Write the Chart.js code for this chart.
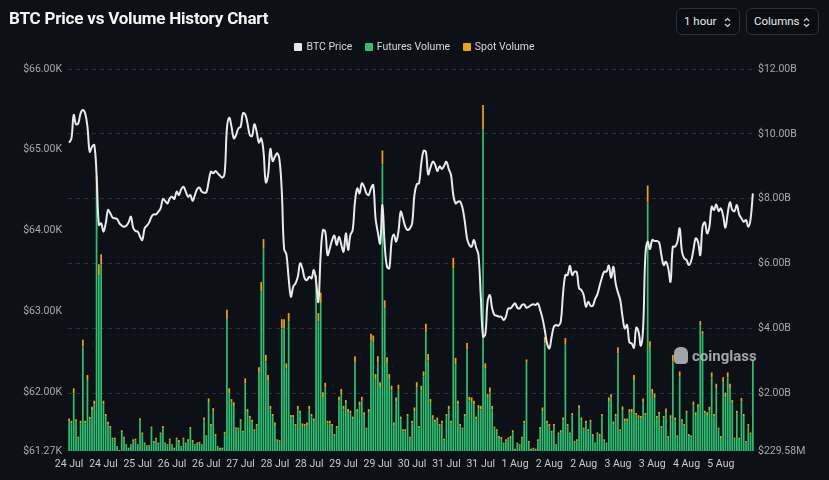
<!DOCTYPE html>
<html>
<head>
<meta charset="utf-8">
<script src="https://cdn.jsdelivr.net/npm/chart.js@4.4.1/dist/chart.umd.min.js"></script>
<style>
html,body{margin:0;padding:0;background:#0d1017;}
#wrap{position:relative;width:829px;height:480px;overflow:hidden;font-family:Roboto,"Noto Sans",sans-serif;}
#c{position:absolute;left:0;top:0;}
.title{position:absolute;left:9px;top:8px;color:#f4f4f4;font-size:17px;font-weight:700;letter-spacing:-0.2px;}
.sel{position:absolute;top:8px;height:27px;border:1px solid #2c303b;border-radius:6px;color:#ececec;font-size:11.5px;line-height:25px;padding:0 0 0 7px;box-sizing:border-box;background:#0a0d12;}
.sel svg{position:absolute;top:8px;right:8px;}
.legend{position:absolute;top:40px;left:0;width:829px;text-align:center;font-size:10.5px;color:#d8d8d8;}
.legend span{display:inline-block;margin:0 5px;}
.legend i{display:inline-block;width:8px;height:8px;border-radius:1px;margin-right:4px;vertical-align:-1px;}
.wm{position:absolute;left:674px;top:347px;color:rgba(190,190,195,0.85);font-size:15px;font-weight:700;}
.wm b{display:inline-block;width:14px;height:17px;background:rgba(190,190,195,0.85);border-radius:6px 6px 4px 4px;vertical-align:-3px;margin-right:4px;}
</style>
</head>
<body>
<div id="wrap">
  <canvas id="c" width="829" height="480"></canvas>
  <div class="title">BTC Price vs Volume History Chart</div>
  <div class="sel" style="left:676px;width:64px">1 hour<svg width="7" height="11" viewBox="0 0 7 11"><path d="M1 4 L3.5 1.5 L6 4 M1 7 L3.5 9.5 L6 7" stroke="#cfcfcf" stroke-width="1.2" fill="none"/></svg></div>
  <div class="sel" style="left:746px;width:73px">Columns<svg width="7" height="11" viewBox="0 0 7 11"><path d="M1 4 L3.5 1.5 L6 4 M1 7 L3.5 9.5 L6 7" stroke="#cfcfcf" stroke-width="1.2" fill="none"/></svg></div>
  <div class="legend">
    <span><i style="background:#e6e6ea"></i>BTC Price</span>
    <span><i style="background:#2fbf71"></i>Futures Volume</span>
    <span><i style="background:#f5a10f"></i>Spot Volume</span>
  </div>
  <div class="wm"><b></b>coinglass</div>
</div>
<script>
/* hourly data, 24 Jul 07:00 -> 5 Aug 18:00, volumes in billions USD */
const futures = [
  1.15,1.08,2.01,1.13,0.61,1.08,3.46,1.08,2.42,1.20,1.48,1.67,8.17,5.63,5.97,
  1.67,1.29,1.05,0.92,0.58,0.58,0.34,0.22,0.81,0.61,0.40,0.29,0.40,0.53,0.55,
  0.40,1.16,0.74,0.45,0.37,0.37,0.92,0.48,0.58,0.45,0.74,0.92,0.45,0.40,0.55,
  0.40,0.29,0.58,0.51,0.34,0.58,0.45,0.53,0.91,0.51,0.40,0.45,0.45,0.40,1.18,
  0.65,1.74,0.98,1.44,0.69,0.34,0.29,0.29,0.76,4.30,2.01,1.72,1.62,0.89,0.89,
  1.13,0.79,2.32,1.41,1.23,1.11,0.84,0.98,2.66,5.14,6.46,2.99,2.42,1.51,1.29,
  1.03,0.53,0.50,4.01,4.01,2.78,4.23,1.26,1.26,0.98,1.51,1.39,1.00,0.98,1.03,
  1.51,1.29,1.15,5.33,4.23,4.79,1.89,2.18,1.08,1.08,0.98,0.69,0.92,1.79,1.99,
  1.51,1.69,1.41,1.39,1.21,2.95,1.41,1.64,1.79,1.34,0.89,1.41,3.64,3.59,2.45,
  2.95,2.20,9.06,4.62,2.92,2.45,2.09,1.03,1.77,2.12,1.21,0.84,0.84,1.29,0.61,
  1.08,1.46,2.20,0.92,2.09,2.53,3.90,3.02,1.72,1.25,1.11,1.18,0.98,1.08,0.55,
  1.29,1.51,1.08,5.86,2.90,1.67,0.98,0.89,1.29,3.36,1.79,1.77,1.67,1.21,1.53,
  1.51,10.14,2.78,1.87,2.04,1.51,0.92,0.84,0.63,0.60,0.45,0.53,0.58,0.63,0.81,
  0.26,0.45,0.40,0.61,1.08,2.95,0.48,0.26,0.29,0.26,0.53,0.91,1.46,3.54,1.08,
  0.98,0.79,0.98,0.40,0.74,0.81,1.18,3.51,0.98,0.74,1.32,0.48,0.53,1.53,1.18,
  0.89,1.08,0.84,1.11,0.69,0.45,0.74,0.69,1.29,0.53,0.45,1.77,1.87,1.06,1.29,
  3.23,0.84,1.49,1.15,1.15,1.41,1.41,2.42,1.32,1.25,1.23,1.74,1.32,7.89,3.41,
  1.99,1.85,1.23,1.36,0.92,1.23,1.43,0.63,1.25,2.99,1.18,0.65,2.53,1.13,0.98,
  1.39,0.69,0.65,1.64,1.34,1.56,4.10,3.82,1.39,1.34,1.48,2.50,1.29,2.15,0.89,
  0.63,2.35,1.88,2.50,2.15,1.69,0.58,1.39,0.58,1.75,1.29,0.48,0.98,0.74,3.00
];
const spot = [
  .08,.08,.15,.08,.06,.08,.20,.08,.15,.08,.11,.11,.54,.35,.32,
  .11,.08,.08,.08,.06,.06,.04,.04,.06,.06,.04,.04,.04,.06,.06,
  .04,.08,.06,.04,.04,.04,.06,.06,.06,.04,.06,.08,.04,.04,.06,
  .04,.04,.06,.06,.04,.06,.04,.06,.06,.06,.04,.04,.06,.04,.08,
  .06,.11,.08,.11,.06,.04,.04,.04,.06,.28,.15,.11,.11,.06,.06,
  .08,.06,.15,.11,.08,.08,.06,.08,.15,.30,.30,.20,.15,.11,.08,
  .08,.06,.06,.28,.28,.15,.25,.08,.08,.08,.11,.08,.08,.08,.08,
  .11,.08,.08,.32,.25,.32,.15,.15,.08,.08,.08,.06,.08,.11,.15,
  .11,.11,.11,.08,.08,.20,.11,.11,.11,.08,.06,.11,.20,.20,.15,
  .20,.15,.43,.25,.20,.15,.15,.08,.11,.15,.08,.06,.06,.08,.06,
  .08,.11,.15,.08,.15,.15,.25,.20,.11,.08,.08,.08,.08,.08,.06,
  .08,.11,.08,.32,.20,.11,.08,.06,.08,.20,.11,.11,.11,.08,.11,
  .11,.75,.15,.11,.15,.11,.06,.06,.06,.06,.04,.06,.06,.06,.06,
  .04,.04,.04,.06,.08,.10,.06,.04,.04,.04,.06,.06,.11,.20,.08,
  .08,.06,.08,.04,.06,.06,.08,.20,.08,.06,.08,.06,.06,.11,.08,
  .06,.08,.06,.08,.06,.04,.06,.06,.08,.06,.04,.11,.11,.08,.08,
  .20,.06,.11,.08,.08,.11,.11,.15,.08,.08,.08,.11,.08,.52,.20,
  .15,.15,.08,.08,.08,.08,.11,.06,.08,.20,.08,.06,.15,.08,.08,
  .08,.06,.06,.11,.08,.11,.13,.10,.08,.08,.11,.15,.08,.15,.06,
  .06,.15,.15,.15,.15,.11,.06,.08,.06,.11,.08,.06,.08,.06,.04
];
const price = [
  65088,65141,65430,65315,65327,65451,65492,65451,65286,64976,65038,65059,64687,64068,64089,
  63986,64089,64254,64213,64159,64151,64142,64089,64060,64047,64060,64101,64171,64035,63994,
  63986,63924,63882,64027,64060,64101,64171,64200,64200,64233,64274,64390,64365,64336,64398,
  64419,64390,64481,64440,64510,64543,64481,64419,64440,64365,64440,64514,64530,64481,64468,
  64473,64605,64729,64708,64737,64708,64679,64654,64708,65265,65397,65286,65141,65183,65265,
  65286,65451,65439,65327,65183,65170,65315,65224,65088,65141,64976,64596,64687,65009,64861,
  64914,64956,64873,64481,63771,63705,63408,63181,63304,63346,63428,63593,63531,63408,63387,
  63428,63408,63511,63366,63119,63697,64006,63986,63697,63779,63882,63936,63820,63924,63829,
  63738,63965,63759,63944,64006,64357,64522,64460,64584,64543,64460,64440,64522,64563,64151,
  63977,63841,64316,63820,63552,63531,63862,63952,63862,63986,64233,64151,64047,64006,64027,
  64089,64440,64572,64584,64832,64985,64976,64696,64778,64852,64819,64737,64795,64762,64803,
  64852,64762,64687,64440,64336,64357,64357,64283,64118,63903,63820,63800,63882,63787,63697,
  63201,62685,62715,63119,63201,63036,62954,62945,62933,62933,62892,62933,63036,63036,63069,
  63098,63044,63036,63077,63086,63044,63057,63077,63086,63077,63098,63015,62912,62768,62603,
  62541,62685,62809,62830,62821,62871,63222,63449,63449,63565,63449,63490,63482,63284,63263,
  63201,63057,63119,63069,63069,63152,63209,63317,63416,63490,63490,63565,63416,63552,63346,
  63234,63139,62933,62788,62830,62615,62603,62549,62797,62747,62574,62788,63697,63862,63771,
  63882,63870,63870,63853,63697,63573,63614,63531,63366,63800,63800,63862,64027,63738,63655,
  63635,63573,63622,63759,63903,63862,63697,64047,64101,63965,64047,64295,64254,64324,64241,
  64274,64184,64035,64213,64349,64254,64241,64316,64200,64151,64109,64130,64047,64142,64460
];
const priceTicks = [61270, 62000, 63000, 64000, 65000, 66000];
const volTicks = [0.22958, 2, 4, 6, 8, 10, 12];
const months = ['Jan','Feb','Mar','Apr','May','Jun','Jul','Aug','Sep','Oct','Nov','Dec'];
const startTime = Date.UTC(2024, 6, 24, 7);
const labelEvery = 15;

const labels = futures.map((_, i) => {
  const d = new Date(startTime + i * 3600e3);
  return d.getUTCDate() + ' ' + months[d.getUTCMonth()];
});

const fmtPrice = v => '$' + (v / 1000).toFixed(2) + 'K';
const fmtVol = v => v < 1 ? '$' + (v * 1000).toFixed(2) + 'M' : '$' + v.toFixed(2) + 'B';

new Chart(document.getElementById('c'), {
  data: {
    labels: labels,
    datasets: [
      {type:'line', label:'BTC Price', data:price, yAxisID:'y', borderColor:'#e9e9ee', borderWidth:2,
        pointRadius:0, tension:0.4, order:0},
      {type:'bar', label:'Futures Volume', data:futures, yAxisID:'y1', backgroundColor:'#2fbf71',
        stack:'vol', order:1, barPercentage:0.75, categoryPercentage:1},
      {type:'bar', label:'Spot Volume', data:spot, yAxisID:'y1', backgroundColor:'#f5a10f',
        stack:'vol', order:2, barPercentage:0.75, categoryPercentage:1}
    ]
  },
  options: {
    responsive:false, animation:false,
    layout:{padding:{top:69, left:0, right:0, bottom:0}},
    plugins:{legend:{display:false}, tooltip:{enabled:false}},
    scales:{
      x:{stacked:true, grid:{display:false, drawTicks:false}, border:{display:false},
        ticks:{autoSkip:false, maxRotation:0, color:'#c9c9cc', font:{family:'Roboto', size:10.5}, padding:7,
          callback:(v, i) => i % labelEvery === 0 ? labels[i] : null},
        afterFit:s => { s.height = 29; }},
      y:{position:'left', min:priceTicks[0], max:priceTicks[priceTicks.length - 1],
        grid:{display:false, drawTicks:false}, border:{display:false},
        afterBuildTicks:s => { s.ticks = priceTicks.map(v => ({value:v})); },
        ticks:{color:'#a8a8ad', font:{family:'Roboto', size:10.5}, padding:6, callback:fmtPrice},
        afterFit:s => { s.width = 68; }},
      y1:{position:'right', stacked:true, min:volTicks[0], max:volTicks[volTicks.length - 1],
        grid:{color:c => c.index === 0 ? 'rgba(0,0,0,0)' : '#2b2f3a', drawTicks:false, lineWidth:1},
        border:{display:false, dash:[4,4]},
        afterBuildTicks:s => { s.ticks = volTicks.map(v => ({value:v})); },
        ticks:{color:'#a8a8ad', font:{family:'Roboto', size:10.5}, padding:4, callback:fmtVol},
        afterFit:s => { s.width = 75; }}
    }
  }
});
</script>
</body>
</html>
